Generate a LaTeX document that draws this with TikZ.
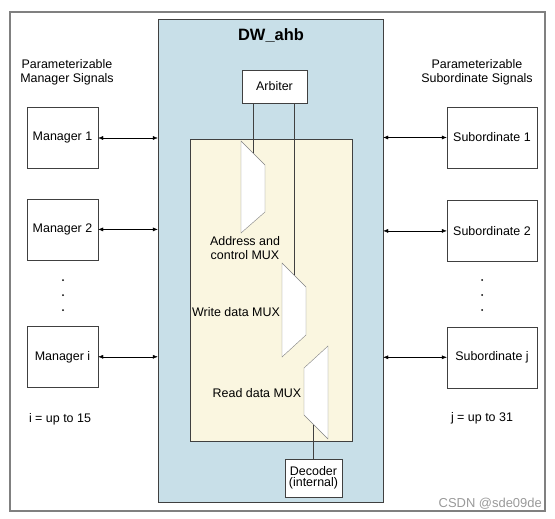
\documentclass[tikz,border=0pt]{standalone}
\usepackage{fontspec}
\setmainfont{Liberation Sans}
\usetikzlibrary{positioning,arrows.meta}
\definecolor{ahbblue}{RGB}{200,223,232}
\definecolor{coreyellow}{RGB}{250,246,224}
\definecolor{edgegray}{RGB}{64,64,64}

\begin{document}
\begin{tikzpicture}[
x=1bp, y=-1bp,
font=\fontsize{12.5}{14}\selectfont,
port/.style={rectangle, draw=edgegray, fill=white, minimum width=71bp, minimum height=61bp, inner sep=0pt},
sub/.style={port, minimum width=90bp},
lbl/.style={align=center, inner sep=0pt},
link/.style={{Latex[length=5bp,width=4bp]}-{Latex[length=5bp,width=4bp]}, thin},
mux/.style={draw=gray, fill=white}
]
\useasboundingbox (0,0) rectangle (555,519);
%Frame
\draw[gray, line width=1.2bp] (10,12) rectangle (545,511);
%Blocks
\node[draw=edgegray, fill=ahbblue, minimum width=225bp, minimum height=483bp, inner sep=0pt] (ahb) at (270.5,260.5) {};
\node[font=\bfseries\fontsize{16.5}{18}\selectfont] (title) at (271,36) {DW\_ahb};
\node[draw=edgegray, fill=white, minimum width=65bp, minimum height=33bp, inner sep=0pt] (arb) at (274.5,86.5) {Arbiter};
\node[draw=edgegray, fill=coreyellow, minimum width=162bp, minimum height=302bp, inner sep=0pt] (core) at (271,290) {};
\node[draw=edgegray, fill=white, minimum width=57bp, minimum height=38bp, inner sep=0pt, align=center, font=\fontsize{12.5}{11}\selectfont] (dec) at (313.5,478) {Decoder\\(internal)};
%Muxes
\draw[mux] (241,141) -- (265,165) -- (265,212) -- (241,233) -- cycle;
\draw[mux] (282,263) -- (306,287) -- (306,335) -- (282,357) -- cycle;
\draw[mux] (328,346) -- (328,439) -- (304,415) -- (304,368) -- cycle;
\coordinate (sel1) at (253,153);
\coordinate (sel2) at (294,275);
\coordinate (rsel) at (313.5,424.5);
\draw[edgegray] (arb.south -| sel1) -- (sel1);
\draw[edgegray] (arb.south -| sel2) -- (sel2);
\draw[edgegray] (rsel) -- (dec.north);
\node[lbl] (addrlbl) at (245,248) {Address and\\control MUX};
\node[lbl] (wrlbl) at (236,312) {Write data MUX};
\node[lbl] (rdlbl) at (257,393) {Read data MUX};
%Managers
\node[lbl] (mgrsig) at (67,72) {Parameterizable\\Manager Signals};
\node[port] (m1) at (62.5,138) {Manager 1};
\node[port, below=30bp of m1] (m2) {Manager 2};
\node[port, below=66bp of m2] (mi) {Manager i};
\node[lbl] (mnote) at (60,419) {i = up to 15};
%Subordinates
\node[lbl] (subsig) at (477,72) {Parameterizable\\Subordinate Signals};
\node[sub] (s1) at (492,137.5) {Subordinate 1};
\node[sub, below=32bp of s1] (s2) {Subordinate 2};
\node[sub, below=65bp of s2] (sj) {Subordinate j};
\node[lbl] (snote) at (482,418) {j = up to 31};
%Dots
\foreach \y in {280,295,310} {
  \fill (63,\y) circle (1bp);
  \fill (482,\y) circle (1bp);
}
%Lines
\draw[link] (m1) -- (m1 -| ahb.west);
\draw[link] (m2) -- (m2 -| ahb.west);
\draw[link] (mi) -- (mi -| ahb.west);
\draw[link] (s1 -| ahb.east) -- (s1);
\draw[link] (s2 -| ahb.east) -- (s2);
\draw[link] (sj -| ahb.east) -- (sj);
\node[anchor=south east, text=gray!80, font=\fontsize{13}{15}\selectfont, inner sep=0pt] (mark) at (542,509) {CSDN @sde09de};
\end{tikzpicture}
\end{document}
